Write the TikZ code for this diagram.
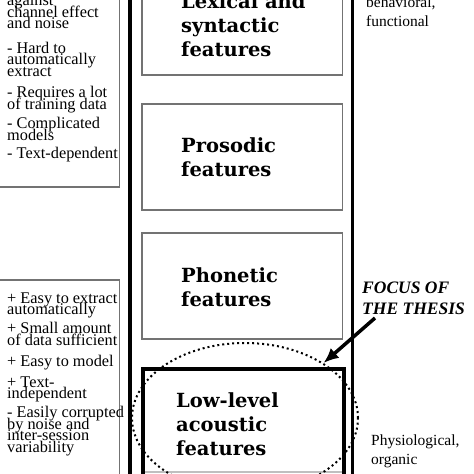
\documentclass[tikz,border=0pt]{standalone}
\usepackage{fontspec}
\setmainfont{Liberation Serif}
\newfontfamily\featfont{DejaVu Serif}
\usetikzlibrary{arrows.meta,shapes.geometric}
\newcommand\tightlines{\lineskiplimit-100pt\lineskip0pt\relax}

\begin{document}
\begin{tikzpicture}[
  x=1pt,
  y=-1pt,
  >=Latex,
  every node/.style={inner sep=0pt, anchor=base west, align=left},
  grayline/.style={draw=black!55, line width=1.5pt},
  heavyline/.style={draw=black, line width=3.3pt},
  feattext/.style={font=\featfont\bfseries\fontsize{19.5}{24}\selectfont\tightlines},
  notetext/.style={font=\fontsize{16.3}{11.5}\selectfont\tightlines},
  sidetext/.style={font=\fontsize{15.5}{19}\selectfont\tightlines},
  focustext/.style={font=\bfseries\itshape\fontsize{17.5}{21}\selectfont\tightlines},
  focusring/.style={ellipse, draw, anchor=center, line width=2pt,
    dash pattern=on 2pt off 3pt, minimum width=226pt, minimum height=150pt},
  focusarrow/.style={-{Latex[length=15pt,width=13pt]}, line width=3.5pt},
]
\useasboundingbox (0,0) rectangle (474,474);
\clip (0,0) rectangle (474,474);
% side boxes and the feature column
\draw[grayline] (-10,-10) rectangle (119.5,187);
\draw[grayline] (-10,280) rectangle (119.5,490);
\draw[heavyline] (130,-10) rectangle (352.5,490);
\draw[grayline] (142,-10) rectangle (342.7,75);
\draw[grayline] (142,104) rectangle (342.7,210);
\draw[grayline] (142,233) rectangle (342.7,339);
\draw[grayline, draw=black!25] (145,472) -- (341.5,472);
\draw[heavyline, line width=4pt] (142.5,368.7) rectangle (344.3,490);
% texts (placed at the baseline of their last line)
\node[notetext] (cons) at (7,158.5) {against\\channel effect\\and noise\\[13pt]- Hard to\\automatically\\extract\\[10pt]- Requires a lot\\of training data\\[8pt]- Complicated\\models\\[7pt]- Text-dependent};
\node[notetext] (pros) at (7,452) {+ Easy to extract\\automatically\\[7.5pt]+ Small amount\\of data sufficient\\[10pt]+ Easy to model\\[9pt]+ Text-\\independent\\[7.5pt]- Easily corrupted\\by noise and\\inter-session\\variability};
\node[feattext] (lexical) at (181,56) {Lexical and\\syntactic\\features};
\node[feattext] (prosodic) at (181,176.5) {Prosodic\\features};
\node[feattext] (phonetic) at (181,306.5) {Phonetic\\features};
\node[feattext] (lowlevel) at (176,455.5) {Low-level\\acoustic\\features};
\node[sidetext] (behav) at (366,26) {behavioral,\\functional};
\node[sidetext] (physio) at (371,464) {Physiological,\\organic};
\node[focustext] (focus) at (362,314) {FOCUS OF\\THE THESIS};
% focus marker
\node[focusring] (ring) at (245,418) {};
\coordinate (tail) at (375,318);
\draw[focusarrow] (tail) -- (ring.35.5);
\end{tikzpicture}
\end{document}
